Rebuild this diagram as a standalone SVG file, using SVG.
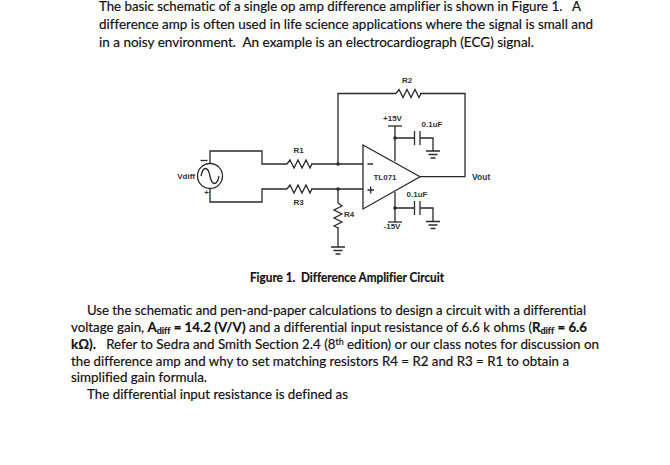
<svg xmlns="http://www.w3.org/2000/svg" width="670" height="465" viewBox="0 0 670 465">
<style>
.t{font-family:"Lato","Liberation Sans",sans-serif;font-size:13.5px;fill:#111;stroke:#111;stroke-width:.2;font-variant-ligatures:none}
.b{font-weight:700}
.s{font-family:"Liberation Sans",Arial,sans-serif;font-size:8px;font-weight:700;fill:#333}
.w{fill:none;stroke:#2a2a2a;stroke-width:1.3;stroke-linejoin:miter}
.d{fill:#2a2a2a}
</style>
<defs>
<path id="res" class="w" d="M0 0l3 -4 4 8 4 -8 4 8 4 -8 4 8 2 -4"/>
<g id="gnd"><path class="w" d="M-7 0H7M-4.500 3.500H4.500M-2.500 7H2.500"/></g>
</defs>
<rect width="670" height="465" fill="#fff"/>
<g id="body-top">
<text class="t" x="99" y="11" textLength="482" lengthAdjust="spacingAndGlyphs" xml:space="preserve">The basic schematic of a single op amp difference amplifier is shown in Figure 1.   A</text>
<text class="t" x="99" y="29" textLength="494" lengthAdjust="spacingAndGlyphs">difference amp is often used in life science applications where the signal is small and</text>
<text class="t" x="99" y="47" textLength="435" lengthAdjust="spacingAndGlyphs" xml:space="preserve">in a noisy environment.  An example is an electrocardiograph (ECG) signal.</text>
</g>
<g id="connectors">
<path class="w" d="M210 163.500V151H262V164H287M311 164H338M210 188.500V202H262V189H287M311 189H338"/>
<path class="w" d="M338 164V93.500H396M420 93.500H465V176.700H420M338 164H363M338 189H363M338 189V203M338 227V243"/>
<path class="w" d="M395 126V161M395 138H414M420 138H433V151M395 192V222M395 208H414M420 208H433V221.500"/>
<circle class="d" cx="338" cy="164" r="1.800"/>
<circle class="d" cx="338" cy="189" r="1.800"/>
<circle class="d" cx="395" cy="138" r="1.800"/>
<circle class="d" cx="395" cy="208" r="1.800"/>
</g>
<g id="Vsource">
<circle class="w" cx="210" cy="176" r="12.500"/>
<path class="w" d="M201 176C203 166 208 166 210 176S217 186 219 176"/>
<path class="w" stroke-width="2" d="M200.500 160.500H207.500"/>
<text class="s" x="206.500" y="195" text-anchor="middle">+</text>
<text class="s" x="195" y="178.500" text-anchor="end">Vdiff</text>
</g>
<g id="R1"><use href="#res" x="287" y="164"/><text class="s" x="298.500" y="152.500" text-anchor="middle">R1</text></g>
<g id="R3"><use href="#res" x="287" y="189"/><text class="s" x="298.500" y="204.500" text-anchor="middle">R3</text></g>
<g id="R2"><use href="#res" x="396" y="93.500"/><text class="s" x="407" y="82.500" text-anchor="middle">R2</text></g>
<g id="R4"><use href="#res" transform="translate(338 203) rotate(90)"/><text class="s" x="344" y="217">R4</text><use href="#gnd" x="338" y="247"/><path class="w" d="M338 243V247"/></g>
<g id="opamp">
<path class="w" fill="#fff" d="M363 145L420 176.700 363 209Z"/>
<path class="w" stroke-width="1.600" d="M367.500 164H373M367.500 190H374M370.700 186.500V193.500"/>
<text class="s" x="385" y="179.500" text-anchor="middle">TL071</text>
</g>
<g id="pos-rail"><path class="w" d="M388 126H402"/><text class="s" x="392.500" y="120.500" text-anchor="middle">+15V</text></g>
<g id="neg-rail"><path class="w" d="M388 222H402"/><text class="s" x="392" y="229" text-anchor="middle">-15V</text></g>
<g id="C1"><path class="w" stroke-width="1.500" d="M414.500 131V145M420 131V145"/><text class="s" x="432" y="126.500" text-anchor="middle">0.1uF</text><use href="#gnd" x="433" y="151"/></g>
<g id="C2"><path class="w" stroke-width="1.500" d="M414.500 201V215M420 201V215"/><text class="s" x="417" y="196.500" text-anchor="middle">0.1uF</text><use href="#gnd" x="433" y="221.500"/></g>
<g id="Vout"><text class="s" x="472" y="179.500" style="font-size:8.500px">Vout</text></g>
<text class="t b" x="250" y="282" style="font-size:12.300px" textLength="194" lengthAdjust="spacingAndGlyphs" xml:space="preserve">Figure 1.  Difference Amplifier Circuit</text>
<g id="body-bottom">
<text class="t" x="87" y="315" textLength="499" lengthAdjust="spacingAndGlyphs">Use the schematic and pen-and-paper calculations to design a circuit with a differential</text>
<text class="t" x="71" y="332" textLength="516" lengthAdjust="spacingAndGlyphs">voltage gain, <tspan class="b">A<tspan font-size="9" dy="1.500">diff</tspan><tspan dy="-1.500"> = 14.2 (V/V)</tspan></tspan> and a differential input resistance of 6.6 k ohms (<tspan class="b">R<tspan font-size="9" dy="1.500">diff</tspan><tspan dy="-1.500"> = 6.6</tspan></tspan></text>
<text class="t" x="71" y="349" textLength="528" lengthAdjust="spacingAndGlyphs" xml:space="preserve"><tspan class="b">kΩ).</tspan>   Refer to Sedra and Smith Section 2.4 (8<tspan font-size="9" dy="-4">th</tspan><tspan dy="4"> edition) or our class notes for discussion on</tspan></text>
<text class="t" x="71" y="366" textLength="498" lengthAdjust="spacingAndGlyphs">the difference amp and why to set matching resistors R4 = R2 and R3 = R1 to obtain a</text>
<text class="t" x="71" y="382" textLength="136" lengthAdjust="spacingAndGlyphs">simplified gain formula.</text>
<text class="t" x="87" y="399" textLength="261" lengthAdjust="spacingAndGlyphs">The differential input resistance is defined as</text>
</g>
</svg>
